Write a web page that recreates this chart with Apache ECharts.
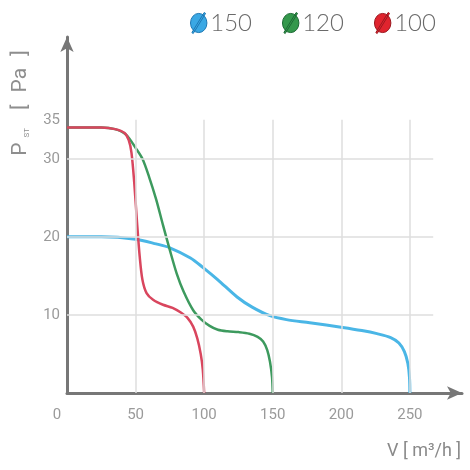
<!DOCTYPE html>
<html>
<head>
<meta charset="utf-8">
<script src="https://cdn.jsdelivr.net/npm/echarts@6/dist/echarts.min.js"></script>
<style>html,body{margin:0;padding:0;background:#fff}#c{width:470px;height:470px}</style>
</head>
<body>
<div id="c"></div>
<script>
// Data (V [m3/h], P_st [Pa])
const seriesNames = ['150', '120', '100'];
const blue150 = [[0,20],[25,20],[50,19.7],[65,19.1],[75,18.6],[90,17.3],[99,16.1],[110,14.5],[124,12.3],[135,11],[148,9.9],[160,9.4],[177,9.0],[201,8.4],[215,8.0],[226,7.6],[236,7.1],[242,6.4],[246,5.3],[248.5,3.8],[249.7,2],[250,0]];
const green120 = [[0,34],[25,34],[35,33.8],[43,33.1],[50,31.4],[55,30],[60,27.6],[65,24.8],[70,21.5],[75,18.3],[80,15.3],[85,13],[92,10.6],[98,9.4],[104,8.6],[110,8.1],[117,7.9],[125,7.8],[133,7.6],[139,7.2],[143,6.6],[146,5.5],[148,4],[149.5,2],[150,0]];
const red100 = [[0,34],[25,34],[35,33.8],[42,33.3],[45,32.4],[47,30.8],[49,27],[51,22],[53,17.5],[55,14.5],[58,12.8],[63,11.9],[70,11.3],[77,10.9],[83,10.3],[88,9.6],[92,8.5],[95,7],[97.5,5],[99,3],[100,0]];
const xTicks = [0, 50, 100, 150, 200, 250];
const yTicks = [10, 20, 30, 35];
const hGrid = [10, 20, 30];
const vGrid = [50, 100, 150, 200, 250];

const colors = {'150':'#4ab6e6','120':'#3d9a5e','100':'#d9465e'};
const iconFill = {'150':'#3aa8e4','120':'#34984c','100':'#e0242e'};
const iconBorder = {'150':'#1d78b4','120':'#1c6a34','100':'#9c1820'};
const iconPath = 'path://M10,0A9,10.5,0,1,1,10,21A9,10.5,0,1,1,10,0Z M16,-1L17.5,0L4,22L2.5,21Z';

const gridLines = [];
hGrid.forEach(v => gridLines.push([{coord:[0,v]},{coord:[267,v]}]));
vGrid.forEach(v => gridLines.push([{coord:[v,0]},{coord:[v,35]}]));

const labelFont = '"Liberation Sans Narrow","Roboto",sans-serif';
const nameFont = 'Roboto, sans-serif';
const chart = echarts.init(document.getElementById('c'));
chart.setOption({
  animation: false,
  backgroundColor: '#fff',
  grid: {left: 67, right: 8, top: 37, bottom: 77, containLabel: false},
  legend: {
    left: 185, top: 6, itemGap: 30, itemWidth: 17, itemHeight: 21,
    icon: iconPath,
    textStyle: {fontSize: 24, color: '#6a6a6a', fontFamily: 'Lato, "Noto Sans", sans-serif', fontWeight: 300, padding: [0,0,0,-2]},
    data: seriesNames.map(n => ({name: n, icon: iconPath,
      itemStyle: {color: iconFill[n], borderColor: iconBorder[n], borderWidth: 1}}))
  },
  xAxis: {
    type: 'value', min: 0, max: 288, interval: 50,
    axisLine: {show: true, lineStyle: {color: '#777777', width: 3}, symbol: ['none','arrow'], symbolSize: [10,15]},
    axisTick: {show: false},
    splitLine: {show: false},
    axisLabel: {
      margin: 15, color: '#9a9a9a', fontSize: 15, fontFamily: labelFont,
      showMaxLabel: false,
      formatter: v => xTicks.indexOf(v) >= 0 ? (v === 0 ? '{z|0}' : String(v)) : '',
      rich: {z: {padding: [0,20,0,0], fontSize: 15, color: '#9a9a9a', fontFamily: labelFont}}
    }
  },
  yAxis: {
    type: 'value', min: 0, max: 45.6, interval: 5,
    axisLine: {show: true, lineStyle: {color: '#777777', width: 3}, symbol: ['none','arrow'], symbolSize: [10,15]},
    axisTick: {show: false},
    splitLine: {show: false},
    axisLabel: {
      margin: 7, color: '#9a9a9a', fontSize: 15, fontFamily: labelFont,
      showMaxLabel: false,
      formatter: v => yTicks.indexOf(v) >= 0 ? String(v) : ''
    }
  },
  graphic: [
    {type: 'text', x: 21, y: 103, rotation: Math.PI/2,
     style: {text: '{p|P}{s|ST}{b|[}{p|Pa}{c|]}', align: 'center', verticalAlign: 'middle',
       rich: {
         p: {fontSize: 21, fill: '#8e8e8e', fontFamily: nameFont, lineHeight: 24, verticalAlign: 'middle'},
         s: {fontSize: 8, fill: '#8e8e8e', fontFamily: nameFont, lineHeight: 24, verticalAlign: 'bottom', padding: [0,0,2,5]},
         b: {fontSize: 21, fill: '#8e8e8e', fontFamily: nameFont, lineHeight: 24, verticalAlign: 'middle', padding: [0,12,0,18]},
         c: {fontSize: 21, fill: '#8e8e8e', fontFamily: nameFont, lineHeight: 24, verticalAlign: 'middle', padding: [0,0,0,12]}
       }}},
    {type: 'text', x: 387, y: 451,
     style: {text: 'V [ m³/h ]', fontSize: 18, fill: '#8a8a8a', fontFamily: labelFont, verticalAlign: 'middle', align: 'left'}}
  ],
  series: [
    {name: 'grid', type: 'line', data: [], z: 1, silent: true,
     markLine: {silent: true, symbol: ['none','none'], label: {show: false},
       lineStyle: {color: '#dedede', width: 1.5, type: 'solid'}, data: gridLines}},
    {name: '150', type: 'line', data: blue150, smooth: 0.3, showSymbol: false, symbol: 'none', z: 3,
     lineStyle: {color: colors['150'], width: 3}, itemStyle: {color: iconFill['150']}},
    {name: '120', type: 'line', data: green120, smooth: 0.3, showSymbol: false, symbol: 'none', z: 3,
     lineStyle: {color: colors['120'], width: 2.5}, itemStyle: {color: iconFill['120']}},
    {name: '100', type: 'line', data: red100, smooth: 0.3, showSymbol: false, symbol: 'none', z: 3,
     lineStyle: {color: colors['100'], width: 2.5}, itemStyle: {color: iconFill['100']}}
  ]
});
</script>
</body>
</html>
